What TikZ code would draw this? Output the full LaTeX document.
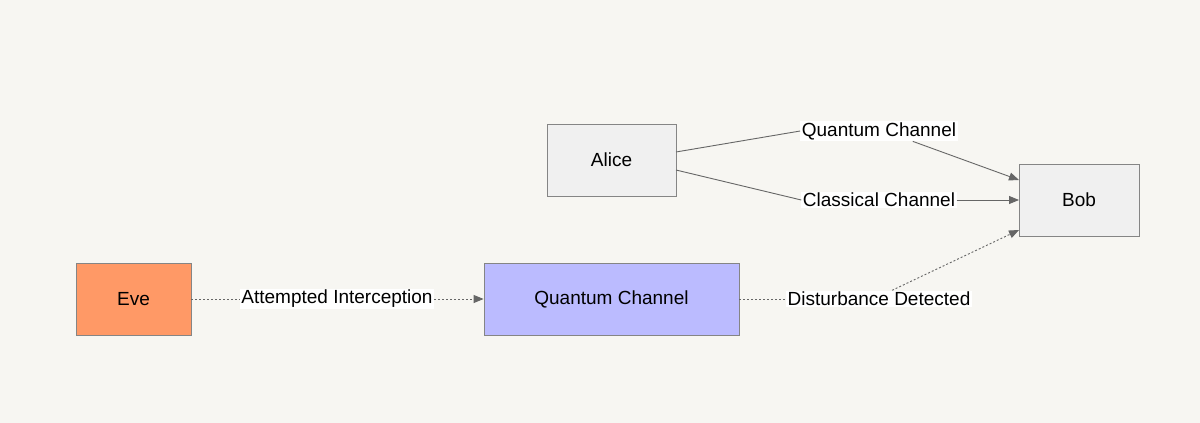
\documentclass[tikz,border=0pt]{standalone}
\usepackage{fontspec}
\setmainfont{Liberation Sans}
\usetikzlibrary{arrows.meta}
\definecolor{bg}{HTML}{F7F6F2}
\definecolor{edge}{HTML}{666666}
\begin{document}
\begin{tikzpicture}[x=1pt,y=-1pt,
  box/.style={draw=edge!80,line width=0.8pt,minimum width=#1,minimum height=72pt,inner sep=0pt,font=\fontsize{19}{22}\selectfont},
  lbl/.style={fill=white,inner sep=1.5pt,font=\fontsize{19}{22}\selectfont},
  con/.style={draw=edge,line width=0.9pt,-{Triangle[length=10pt,width=8pt]}},
  dcon/.style={con,dash pattern=on 2pt off 2pt}]
\fill[bg] (0,0) rectangle (1200,423);
\useasboundingbox (0,0) rectangle (1200,423);
\node[box=129pt,fill=black!6] (alice) at (611.5,160) {Alice};
\node[box=120pt,fill=black!6] (bob) at (1079,200) {Bob};
\node[box=115pt,fill={rgb,255:red,255;green,153;blue,102}] (eve) at (133.5,299) {Eve};
\node[box=255pt,fill={rgb,255:red,187;green,187;blue,255}] (qc) at (611.5,299) {Quantum Channel};
\node[lbl] (lq) at (879,131) {Quantum Channel};
\node[lbl] (lc) at (879,200) {Classical Channel};
\node[lbl] (la) at (337,299) {Attempted Interception};
\node[lbl] (ld) at (879,299) {Disturbance Detected};
\coordinate (a1) at (676,152);
\coordinate (a2) at (676,170);
\coordinate (b1) at (1019,180);
\coordinate (b2) at (1019,200);
\coordinate (b3) at (1019,230);
\draw[draw=edge,line width=0.9pt] (a1) -- (lq.west);
\draw[con] (lq.south east) ++(-45,0) coordinate (q1) (q1) -- (b1);
\draw[draw=edge,line width=0.9pt] (a2) -- (lc.west);
\draw[con] (lc.east) -- (b2);
\draw[draw=edge,line width=0.9pt,dash pattern=on 2pt off 2pt] (eve.east) -- (la.west);
\draw[dcon] (la.east) -- (qc.west);
\draw[draw=edge,line width=0.9pt,dash pattern=on 2pt off 2pt] (qc.east) -- (ld.west);
\draw[dcon] (ld.north east) ++(-80,0) coordinate (d1) (d1) -- (b3);
\end{tikzpicture}
\end{document}
